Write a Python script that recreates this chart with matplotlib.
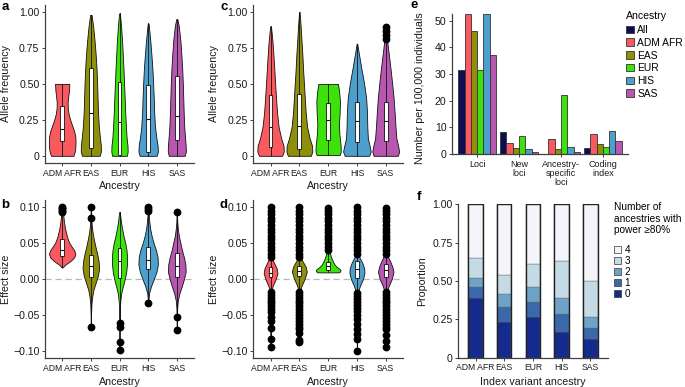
import matplotlib
matplotlib.use('Agg')
import matplotlib.pyplot as plt
from matplotlib.patches import Patch
import numpy as np

plt.rcParams['font.family'] = ['Liberation Sans', 'DejaVu Sans']
plt.rcParams['axes.unicode_minus'] = True

# ---------------- data ----------------
ancestries = ['ADM AFR', 'EAS', 'EUR', 'HIS', 'SAS']
anc_colors = ['#fa5a5f', '#8f8f0c', '#3de20c', '#4d9fcc', '#b757b0']
all_color = '#0d0d52'

# Panel a: allele-frequency violin density profiles (y value, full width)
a_afr_y = [0.0, 0.03, 0.06, 0.10, 0.13, 0.17, 0.21, 0.25, 0.29, 0.33, 0.37, 0.41, 0.45, 0.50]
a_afr_w = [0.78, 0.88, 0.92, 0.93, 0.92, 0.84, 0.70, 0.56, 0.45, 0.39, 0.38, 0.42, 0.47, 0.50]
a_eas_y = [0.0, 0.03, 0.07, 0.12, 0.2, 0.3, 0.4, 0.5, 0.6, 0.7, 0.8, 0.9, 0.98]
a_eas_w = [0.62, 0.70, 0.70, 0.64, 0.56, 0.50, 0.47, 0.44, 0.40, 0.34, 0.26, 0.16, 0.05]
a_eur_y = [0.0, 0.03, 0.07, 0.12, 0.2, 0.3, 0.4, 0.5, 0.6, 0.7, 0.8, 0.9, 0.99]
a_eur_w = [0.52, 0.57, 0.56, 0.50, 0.45, 0.40, 0.36, 0.32, 0.28, 0.23, 0.18, 0.11, 0.03]
a_his_y = [0.0, 0.03, 0.07, 0.12, 0.2, 0.3, 0.4, 0.5, 0.6, 0.7, 0.8, 0.92]
a_his_w = [0.60, 0.68, 0.66, 0.58, 0.48, 0.42, 0.39, 0.35, 0.30, 0.23, 0.15, 0.03]
a_sas_y = [0.0, 0.03, 0.07, 0.12, 0.2, 0.3, 0.4, 0.5, 0.6, 0.7, 0.8, 0.9, 0.95]
a_sas_w = [0.56, 0.63, 0.62, 0.58, 0.52, 0.48, 0.45, 0.42, 0.38, 0.32, 0.25, 0.14, 0.04]
# box stats: q1, median, q3, whisker low, whisker high
a_q1 = [0.10, 0.056, 0.005, 0.028, 0.109]
a_med = [0.183, 0.30, 0.236, 0.259, 0.278]
a_q3 = [0.347, 0.611, 0.514, 0.49, 0.553]
a_lo = [0.0, 0.0, 0.0, 0.0, 0.0]
a_hi = [0.50, 0.98, 0.99, 0.92, 0.95]

# Panel c
c_afr_y = [0.0, 0.03, 0.07, 0.12, 0.2, 0.3, 0.4, 0.5, 0.6, 0.7, 0.8, 0.9]
c_afr_w = [0.80, 0.92, 0.90, 0.74, 0.56, 0.45, 0.38, 0.32, 0.26, 0.20, 0.13, 0.03]
c_eas_y = [0.0, 0.03, 0.07, 0.12, 0.2, 0.3, 0.4, 0.5, 0.6, 0.7, 0.8, 0.9, 1.0]
c_eas_w = [0.80, 0.90, 0.88, 0.72, 0.54, 0.44, 0.38, 0.32, 0.26, 0.21, 0.15, 0.09, 0.02]
c_eur_y = [0.005, 0.03, 0.08, 0.15, 0.22, 0.3, 0.38, 0.45, 0.5]
c_eur_w = [0.80, 0.88, 0.86, 0.78, 0.75, 0.80, 0.82, 0.76, 0.68]
c_his_y = [0.0, 0.03, 0.07, 0.12, 0.2, 0.3, 0.4, 0.5, 0.6, 0.7, 0.78]
c_his_w = [0.85, 0.96, 0.88, 0.76, 0.72, 0.70, 0.64, 0.50, 0.32, 0.15, 0.02]
c_sas_y = [0.0, 0.03, 0.07, 0.12, 0.2, 0.3, 0.4, 0.5, 0.6, 0.7, 0.8, 0.89]
c_sas_w = [0.85, 0.93, 0.86, 0.74, 0.68, 0.62, 0.55, 0.45, 0.34, 0.22, 0.10, 0.03]
c_q1 = [0.0625, 0.046, 0.109, 0.097, 0.104]
c_med = [0.20, 0.208, 0.25, 0.24, 0.24]
c_q3 = [0.42, 0.433, 0.37, 0.375, 0.375]
c_lo = [0.0, 0.0, 0.005, 0.0, 0.0]
c_hi = [0.90, 1.0, 0.50, 0.78, 0.79]
c_sas_out = [0.815, 0.843, 0.868, 0.896]

# Panel b: effect sizes
b_afr_y = [0.016, 0.02, 0.025, 0.03, 0.035, 0.04, 0.045, 0.05, 0.055, 0.06, 0.07, 0.08, 0.09, 0.1]
b_afr_w = [0.03, 0.22, 0.58, 0.84, 0.92, 0.84, 0.66, 0.50, 0.40, 0.32, 0.20, 0.12, 0.07, 0.03]
b_eas_y = [-0.066, -0.05, -0.035, -0.025, -0.015, -0.005, 0.005, 0.015, 0.025, 0.035, 0.045, 0.055, 0.065, 0.075, 0.085, 0.0995]
b_eas_w = [0.01, 0.015, 0.04, 0.09, 0.18, 0.34, 0.50, 0.58, 0.54, 0.44, 0.32, 0.21, 0.12, 0.06, 0.03, 0.01]
b_eur_y = [-0.099, -0.06, -0.04, -0.03, -0.02, -0.01, 0.0, 0.01, 0.02, 0.03, 0.04, 0.05, 0.06, 0.07, 0.08, 0.093]
b_eur_w = [0.01, 0.015, 0.03, 0.06, 0.12, 0.24, 0.37, 0.47, 0.52, 0.53, 0.49, 0.40, 0.28, 0.18, 0.10, 0.02]
b_his_y = [-0.033, -0.02, -0.01, 0.0, 0.01, 0.02, 0.03, 0.04, 0.05, 0.06, 0.07, 0.08, 0.09, 0.1]
b_his_w = [0.01, 0.06, 0.20, 0.40, 0.58, 0.68, 0.66, 0.55, 0.38, 0.24, 0.14, 0.08, 0.04, 0.015]
b_sas_y = [-0.071, -0.05, -0.04, -0.03, -0.02, -0.01, 0.0, 0.01, 0.02, 0.03, 0.04, 0.05, 0.06, 0.07, 0.08, 0.093]
b_sas_w = [0.01, 0.015, 0.03, 0.07, 0.18, 0.35, 0.50, 0.62, 0.60, 0.50, 0.36, 0.25, 0.14, 0.07, 0.03, 0.01]
b_q1 = [0.032, 0.0023, 0.001, 0.0134, 0.0023]
b_med = [0.040, 0.018, 0.0255, 0.026, 0.018]
b_q3 = [0.056, 0.034, 0.0426, 0.044, 0.0356]
b_lo = [0.017, -0.045, -0.058, -0.025, -0.045]
b_hi = [0.090, 0.080, 0.093, 0.090, 0.080]
b_afr_out = [0.093, 0.095, 0.097, 0.099, 0.100]
b_eas_out = [-0.066, 0.085, 0.0995]
b_eur_out = [-0.0616, -0.066, -0.088, -0.0986]
b_his_out = [-0.033, 0.094, 0.097, 0.100]
b_sas_out = [-0.053, -0.071, 0.093]

# Panel d
d_afr_y = [-0.095, -0.04, -0.02, -0.01, 0.0, 0.008, 0.015, 0.02, 0.025, 0.03, 0.04, 0.06, 0.1]
d_afr_w = [0.01, 0.015, 0.04, 0.14, 0.36, 0.48, 0.42, 0.30, 0.18, 0.08, 0.03, 0.015, 0.01]
d_eas_y = [-0.088, -0.04, -0.02, -0.01, 0.0, 0.01, 0.017, 0.022, 0.027, 0.032, 0.04, 0.06, 0.1]
d_eas_w = [0.01, 0.015, 0.04, 0.14, 0.36, 0.52, 0.44, 0.30, 0.16, 0.08, 0.03, 0.015, 0.01]
d_eur_y = [0.0092, 0.011, 0.0125, 0.015, 0.017, 0.02, 0.024, 0.028, 0.032, 0.038, 0.045, 0.06, 0.1]
d_eur_w = [0.76, 0.84, 0.86, 0.72, 0.58, 0.45, 0.34, 0.25, 0.18, 0.10, 0.05, 0.02, 0.01]
d_his_y = [-0.1, -0.04, -0.02, -0.01, 0.0, 0.008, 0.015, 0.022, 0.03, 0.035, 0.05, 0.1]
d_his_w = [0.01, 0.015, 0.05, 0.20, 0.42, 0.52, 0.50, 0.38, 0.18, 0.08, 0.02, 0.01]
d_sas_y = [-0.095, -0.04, -0.02, -0.01, 0.0, 0.01, 0.017, 0.024, 0.03, 0.036, 0.05, 0.098]
d_sas_w = [0.01, 0.015, 0.05, 0.20, 0.42, 0.54, 0.46, 0.32, 0.18, 0.08, 0.02, 0.01]
d_q1 = [0.003, 0.004, 0.013, 0.002, 0.003]
d_med = [0.009, 0.011, 0.018, 0.014, 0.012]
d_q3 = [0.017, 0.018, 0.024, 0.025, 0.021]
d_lo = [-0.017, -0.016, 0.0092, -0.018, -0.016]
d_hi = [0.030, 0.030, 0.040, 0.033, 0.034]
d_afr_out = [0.030, 0.035, 0.040, 0.045, 0.050, 0.055, 0.060, 0.065, 0.070, 0.075, 0.080, 0.085, 0.090, 0.095, 0.0995,
             -0.018, -0.022, -0.026, -0.030, -0.034, -0.038, -0.042, -0.046, -0.053, -0.059, -0.068, -0.084, -0.095]
d_eas_out = [0.030, 0.035, 0.040, 0.045, 0.050, 0.055, 0.060, 0.065, 0.070, 0.075, 0.080, 0.085, 0.090, 0.095, 0.0995,
             -0.018, -0.022, -0.026, -0.030, -0.034, -0.038, -0.042, -0.046, -0.050, -0.054, -0.058, -0.062,
             -0.066, -0.070, -0.075, -0.085, -0.088]
d_eur_out = [0.040, 0.045, 0.050, 0.055, 0.060, 0.065, 0.070, 0.075, 0.080, 0.085, 0.090, 0.095, 0.098]
d_his_out = [0.035, 0.040, 0.045, 0.050, 0.055, 0.060, 0.065, 0.070, 0.075, 0.080, 0.085, 0.090, 0.095, 0.0995,
             -0.020, -0.024, -0.028, -0.032, -0.036, -0.040, -0.045, -0.050, -0.056, -0.063, -0.070, -0.077,
             -0.084, -0.100]
d_sas_out = [0.035, 0.040, 0.045, 0.050, 0.055, 0.060, 0.065, 0.070, 0.075, 0.080, 0.085, 0.090, 0.095, 0.098,
             -0.018, -0.022, -0.026, -0.030, -0.034, -0.038, -0.042, -0.046, -0.050, -0.054, -0.058, -0.062,
             -0.066, -0.070, -0.078, -0.086, -0.095]

# Panel e: number per 100,000 individuals
e_groups = ['Loci', 'New\nloci', 'Ancestry-\nspecific\nloci', 'Coding\nindex']
e_series = ['All', 'ADM AFR', 'EAS', 'EUR', 'HIS', 'SAS']
e_all = [31.4, 8.4, 0.0, 2.4]
e_adm_afr = [52.6, 4.2, 5.5, 7.5]
e_eas = [46.0, 2.4, 1.7, 3.6]
e_eur = [31.5, 6.6, 22.3, 2.7]
e_his = [52.6, 1.7, 2.5, 8.6]
e_sas = [37.0, 0.6, 0.6, 5.0]

# Panel f: proportion by number of ancestries with power >= 80%
f_levels = ['0', '1', '2', '3', '4']
f_colors = ['#142a8c', '#3a68ab', '#6ea3c7', '#c4dbe5', '#f3f5fa']
f_p0 = [0.387, 0.230, 0.267, 0.169, 0.122]
f_p1 = [0.076, 0.102, 0.096, 0.115, 0.073]
f_p2 = [0.058, 0.083, 0.097, 0.107, 0.070]
f_p3 = [0.128, 0.124, 0.150, 0.241, 0.234]
f_p4 = [0.351, 0.461, 0.390, 0.368, 0.501]

# ---------------- figure ----------------
W, H = 685, 387
fig = plt.figure(figsize=(W / 100, H / 100), dpi=100)
AX_COL = '#404040'


def make_ax(l, t, r, b):
    ax = fig.add_axes([l / W, 1 - b / H, (r - l) / W, (b - t) / H])
    for s in ['top', 'right']:
        ax.spines[s].set_visible(False)
    for s in ['left', 'bottom']:
        ax.spines[s].set_color(AX_COL)
        ax.spines[s].set_linewidth(0.9)
    ax.tick_params(length=2.5, width=0.7, color=AX_COL, labelsize=7.6, pad=1.5, labelcolor='#1a1a1a')
    ax.patch.set_alpha(0)
    return ax


def set_labels(ax, xl, yl, xpos, ypos, fs=7.7, ycen=0.5):
    ax.set_xlabel(xl, fontsize=fs, color='#1a1a1a')
    ax.set_ylabel(yl, fontsize=fs, color='#1a1a1a')
    ax.xaxis.label.set_va('center')
    ax.yaxis.label.set_va('center')
    ax.xaxis.set_label_coords(0.5, xpos)
    ax.yaxis.set_label_coords(ypos, ycen)


def violin_panel(ax, profiles, q1, med, q3, lo, hi, fliers):
    for i, (prof, col) in enumerate(zip(profiles, anc_colors)):
        y, w = np.array(prof[0]), np.array(prof[1])
        st = [dict(coords=y, vals=w, mean=float(np.mean(y)), median=float(np.median(y)),
                   min=float(y.min()), max=float(y.max()))]
        parts = ax.violin(st, positions=[i + 1], widths=[float(w.max())],
                          showmeans=False, showextrema=False, showmedians=False)
        for body in parts['bodies']:
            body.set_facecolor(col)
            body.set_edgecolor('#111111')
            body.set_linewidth(0.6)
            body.set_alpha(1)
            body.set_zorder(1)
    stats = []
    for i in range(5):
        stats.append(dict(q1=q1[i], med=med[i], q3=q3[i], whislo=lo[i], whishi=hi[i],
                          fliers=np.array(fliers[i])))
    ax.bxp(stats, positions=range(1, 6), widths=0.13, patch_artist=True, showcaps=False,
           manage_ticks=False,
           boxprops=dict(facecolor='white', edgecolor='#111111', linewidth=0.6),
           medianprops=dict(color='#111111', linewidth=0.8),
           whiskerprops=dict(color='#111111', linewidth=0.6),
           flierprops=dict(marker='o', markerfacecolor='black', markeredgecolor='black',
                           markersize=4.6, linestyle='none'),
           zorder=2)
    ax.set_xlim(0.4, 5.6)
    ax.set_xticks(range(1, 6))
    ax.set_xticklabels(ancestries, fontsize=6.2)


# Panel a
ax_a = make_ax(45, 4.8, 194, 163)
violin_panel(ax_a, [(a_afr_y, a_afr_w), (a_eas_y, a_eas_w), (a_eur_y, a_eur_w),
                    (a_his_y, a_his_w), (a_sas_y, a_sas_w)],
             a_q1, a_med, a_q3, a_lo, a_hi, [[], [], [], [], []])
ax_a.set_ylim(-0.05, 1.05)
ax_a.set_yticks([0, 0.25, 0.5, 0.75, 1.0])
ax_a.set_yticklabels(['0', '0.25', '0.50', '0.75', '1.00'])
set_labels(ax_a, 'Ancestry', 'Allele frequency', -0.145, -0.262)

# Panel c
ax_c = make_ax(253.3, 4.8, 403, 163)
violin_panel(ax_c, [(c_afr_y, c_afr_w), (c_eas_y, c_eas_w), (c_eur_y, c_eur_w),
                    (c_his_y, c_his_w), (c_sas_y, c_sas_w)],
             c_q1, c_med, c_q3, c_lo, c_hi, [[], [], [], [], c_sas_out])
ax_c.set_ylim(-0.05, 1.05)
ax_c.set_yticks([0, 0.25, 0.5, 0.75, 1.0])
ax_c.set_yticklabels(['0', '0.25', '0.50', '0.75', '1.00'])
set_labels(ax_c, 'Ancestry', 'Allele frequency', -0.145, -0.262)

# Panel b
ax_b = make_ax(45, 199.8, 194, 358.2)
ax_b.axhline(0, color='#b8b8b8', linestyle=(0, (5, 3)), linewidth=0.9, zorder=0.5)
violin_panel(ax_b, [(b_afr_y, b_afr_w), (b_eas_y, b_eas_w), (b_eur_y, b_eur_w),
                    (b_his_y, b_his_w), (b_sas_y, b_sas_w)],
             b_q1, b_med, b_q3, b_lo, b_hi,
             [b_afr_out, b_eas_out, b_eur_out, b_his_out, b_sas_out])
ax_b.set_ylim(-0.11, 0.11)
ax_b.set_yticks([-0.1, -0.05, 0, 0.05, 0.1])
ax_b.set_yticklabels(['\u22120.10', '\u22120.05', '0.00', '0.05', '0.10'])
set_labels(ax_b, 'Ancestry', 'Effect size', -0.148, -0.262)

# Panel d
ax_d = make_ax(253.3, 199.8, 403, 358.2)
ax_d.axhline(0, color='#b8b8b8', linestyle=(0, (5, 3)), linewidth=0.9, zorder=0.5)
violin_panel(ax_d, [(d_afr_y, d_afr_w), (d_eas_y, d_eas_w), (d_eur_y, d_eur_w),
                    (d_his_y, d_his_w), (d_sas_y, d_sas_w)],
             d_q1, d_med, d_q3, d_lo, d_hi,
             [d_afr_out, d_eas_out, d_eur_out, d_his_out, d_sas_out])
ax_d.set_ylim(-0.11, 0.11)
ax_d.set_yticks([-0.1, -0.05, 0, 0.05, 0.1])
ax_d.set_yticklabels(['\u22120.10', '\u22120.05', '0.00', '0.05', '0.10'])
set_labels(ax_d, 'Ancestry', 'Effect size', -0.148, -0.262)

# Panel e
ax_e = make_ax(452, 13.5, 628, 154)
e_values = [e_all, e_adm_afr, e_eas, e_eur, e_his, e_sas]
e_cols = [all_color] + anc_colors
bw = 0.15
gx = np.arange(1, len(e_groups) + 1)
for j, (vals, col) in enumerate(zip(e_values, e_cols)):
    ax_e.bar(gx + (j - 2.5) * bw, vals, width=bw, color=col, edgecolor='#333333',
             linewidth=0.6, label=e_series[j], zorder=2)
ax_e.set_xlim(0.4, 4.6)
ax_e.set_ylim(0, 52.7)
ax_e.set_yticks([0, 10, 20, 30, 40, 50])
ax_e.set_xticks(gx)
ax_e.set_xticklabels(e_groups, fontsize=6.5, linespacing=1.05)
set_labels(ax_e, '', 'Number per 100,000 individuals', -0.1, -0.182, ycen=0.47)
leg_e = ax_e.legend(title='Ancestry', loc='upper left', bbox_to_anchor=(626 / W, 1 - 11 / H),
                    bbox_transform=fig.transFigure, frameon=False, fontsize=7.4, title_fontsize=7.6,
                    handlelength=0.75, handleheight=0.75, handletextpad=0.35, labelspacing=0.26,
                    borderpad=0, borderaxespad=0, alignment='left')
leg_e._legend_box.sep = 3

# Panel f
ax_f = make_ax(458.3, 204.3, 607.6, 357.7)
f_values = [f_p0, f_p1, f_p2, f_p3, f_p4]
fx = np.arange(1, len(ancestries) + 1)
bottom = np.zeros(len(ancestries))
f_handles = []
for k, (vals, col) in enumerate(zip(f_values, f_colors)):
    ax_f.bar(fx, vals, width=0.5, bottom=bottom, color=col, edgecolor='#6a6a6a',
             linewidth=0.3, zorder=2)
    bottom = bottom + np.array(vals)
    f_handles.append(Patch(facecolor=col, edgecolor='#333333', linewidth=0.5, label=f_levels[k]))
ax_f.bar(fx, bottom, width=0.5, fill=False, edgecolor='#222222', linewidth=1.0, zorder=3)
ax_f.set_xlim(0.4, 5.6)
ax_f.set_ylim(0, 1)
ax_f.set_yticks([0, 0.25, 0.5, 0.75, 1.0])
ax_f.set_yticklabels(['0', '0.25', '0.50', '0.75', '1.00'])
ax_f.set_xticks(fx)
ax_f.set_xticklabels(ancestries, fontsize=6.2)
set_labels(ax_f, 'Index variant ancestry', 'Proportion', -0.156, -0.243)
leg_f = ax_f.legend(handles=f_handles[::-1], title='Number of\nancestries with\npower \u226580%',
                    loc='upper left', bbox_to_anchor=(614 / W, 1 - 202 / H),
                    bbox_transform=fig.transFigure, frameon=False, fontsize=7.2, title_fontsize=7.3,
                    handlelength=0.7, handleheight=0.7, handletextpad=0.35, labelspacing=0.1,
                    borderpad=0, borderaxespad=0, alignment='left')
leg_f._legend_box.sep = 7

# panel letters
for letter, x, y in [('a', 5, 7), ('b', 5, 205), ('c', 224, 7), ('d', 224, 205), ('e', 414, 5), ('f', 419, 197)]:
    fig.text(x / W, 1 - y / H, letter, fontsize=9.5, fontweight='bold', ha='center', va='center')

fig.savefig('out.png', dpi=100)
